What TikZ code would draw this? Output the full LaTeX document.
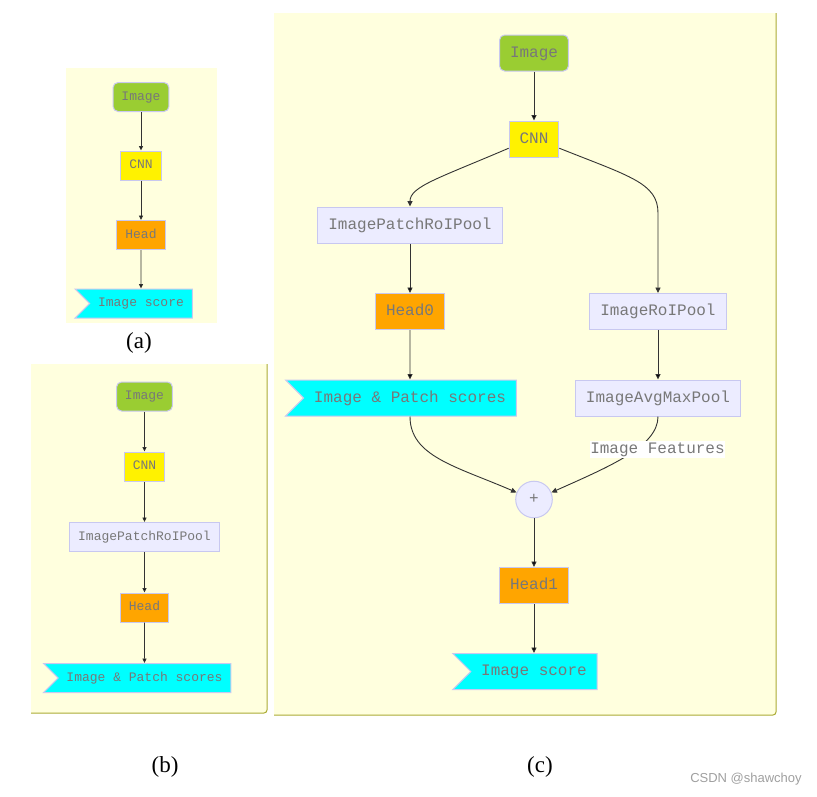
\documentclass[tikz,border=0pt]{standalone}
\usepackage{fontspec}
\setmainfont{Liberation Serif}
\newfontfamily\monofont{Liberation Mono}
\newfontfamily\markfont{Liberation Sans}
\usepackage{tikz}
\usetikzlibrary{arrows.meta}
\usetikzlibrary{calc}
\usetikzlibrary{shapes}

\definecolor{panelfill}{HTML}{FFFFDE}
\definecolor{panelline}{HTML}{AAAA33}
\definecolor{nodeline}{RGB}{200,200,240}
\definecolor{poolfill}{HTML}{ECECFF}
\definecolor{imagegreen}{HTML}{9ACD32}
\definecolor{headorange}{HTML}{FFA500}
\definecolor{flagcyan}{HTML}{00FFFF}
\definecolor{textgray}{RGB}{120,120,120}
\definecolor{edgegray}{HTML}{333333}

\begin{document}
\begin{tikzpicture}[x=1pt, y=-1pt, >={Triangle[length=5.5pt,width=5pt]},
        box_style/.style={rectangle,draw=nodeline,line width=1pt,fill=poolfill,text=textgray,
            inner xsep=10.4pt,minimum height=36pt,text height=11.5pt,text depth=3.5pt,
            font=\monofont\fontsize{16}{19}\selectfont},
        small_style/.style={inner xsep=8.4pt,minimum height=29pt,text height=9.4pt,text depth=2.9pt,
            font=\monofont\fontsize{13}{15.5}\selectfont},
        start_style/.style={box_style,fill=imagegreen,rounded corners=5pt},
        cnn_style/.style={box_style,fill=yellow},
        head_style/.style={box_style,fill=headorange},
        flag_style/.style={box_style,shape=signal,signal from=west,signal to=nowhere,
            signal pointer angle=90,fill=flagcyan},
        sum_style/.style={box_style,circle,minimum size=36.6pt,inner sep=0pt},
        label_style/.style={fill=white,text=textgray,inner xsep=0pt,inner ysep=1pt,
            text height=11.5pt,text depth=3.5pt,font=\monofont\fontsize{16}{19}\selectfont},
        caption_style/.style={font=\fontsize{23}{27}\selectfont},
        edge_style/.style={draw=edgegray,line width=0.9pt,->},
        small_edge_style/.style={edge_style,-{Triangle[length=4.5pt,width=4pt]}}]

        \useasboundingbox (0,0) rectangle (817,796);

        % panels
        \fill [panelfill] (66,68) rectangle (217,323);
        \fill [panelfill] (31,364) rectangle (267,713);
        \fill [panelfill] (274,13) rectangle (776,715);
        \draw [panelline,line width=1pt,rounded corners=3pt] (267,364) -- (267,713) -- (31,713);
        \draw [panelline,line width=1pt,rounded corners=3pt] (776,13) -- (776,715) -- (274,715);

        % (a)
        \node [start_style,small_style](a1) at (141,97) {Image};
        \node [cnn_style,small_style](a2) at (141,165.5) {CNN};
        \node [head_style,small_style](a3) at (141,235) {Head};
        \node [flag_style,small_style](a4) at (141,303.5) {Image score};
        \draw [small_edge_style] (a1) edge (a2);
        \draw [small_edge_style] (a2) edge (a3);
        \draw [small_edge_style] (a3) edge (a4);

        % (b)
        \node [start_style,small_style](b1) at (144.5,396.5) {Image};
        \node [cnn_style,small_style](b2) at (144.5,466.5) {CNN};
        \node [box_style,small_style](b3) at (144.5,537) {ImagePatchRoIPool};
        \node [head_style,small_style](b4) at (144.5,607.5) {Head};
        \node [flag_style,small_style](b5) at (144.5,678) {Image \& Patch scores};
        \draw [small_edge_style] (b1) edge (b2);
        \draw [small_edge_style] (b2) edge (b3);
        \draw [small_edge_style] (b3) edge (b4);
        \draw [small_edge_style] (b4) edge (b5);

        % (c)
        \node [start_style](c1) at (534,53) {Image};
        \node [cnn_style](c2) at (534,139) {CNN};
        \node [box_style](c3) at (410,225) {ImagePatchRoIPool};
        \node [head_style](c4) at (410,311.5) {Head0};
        \node [box_style](c5) at (658,311.5) {ImageRoIPool};
        \node [flag_style](c6) at (410,398) {Image \& Patch scores};
        \node [box_style](c7) at (658,398) {ImageAvgMaxPool};
        \node [sum_style](c8) at (534,499.5) {+};
        \node [head_style](c9) at (534,585.5) {Head1};
        \node [flag_style](c10) at (534,671.5) {Image score};
        \draw [edge_style] (c1) edge (c2);
        \draw [edge_style] (c2.200) .. controls +(-70,30) and +(0,-20) .. (c3.north);
        \draw [edge_style] (c2.-20) .. controls +(70,28) and +(0,-30) .. ($(c5.north)+(0,-80)$) -- (c5.north);
        \draw [edge_style] (c3) edge (c4);
        \draw [edge_style] (c4) edge (c6);
        \draw [edge_style] (c5) edge (c7);
        \draw [edge_style] (c6.south) .. controls +(0,40) and +(-60,-26) .. (c8.158);
        \draw [edge_style] (c7.south) .. controls +(0,30) and +(58,-26) .. (c8.22);
        \node [label_style](c11) at (657.5,449) {Image Features};
        \draw [edge_style] (c8) edge (c9);
        \draw [edge_style] (c9) edge (c10);

        % captions
        \node [caption_style](la) at (139,343) {(a)};
        \node [caption_style](lb) at (165,767) {(b)};
        \node [caption_style](lc) at (540,767) {(c)};
        \node [font=\markfont\fontsize{13}{15}\selectfont,text=gray!75](wm) at (746,779.5) {CSDN @shawchoy};
\end{tikzpicture}
\end{document}
